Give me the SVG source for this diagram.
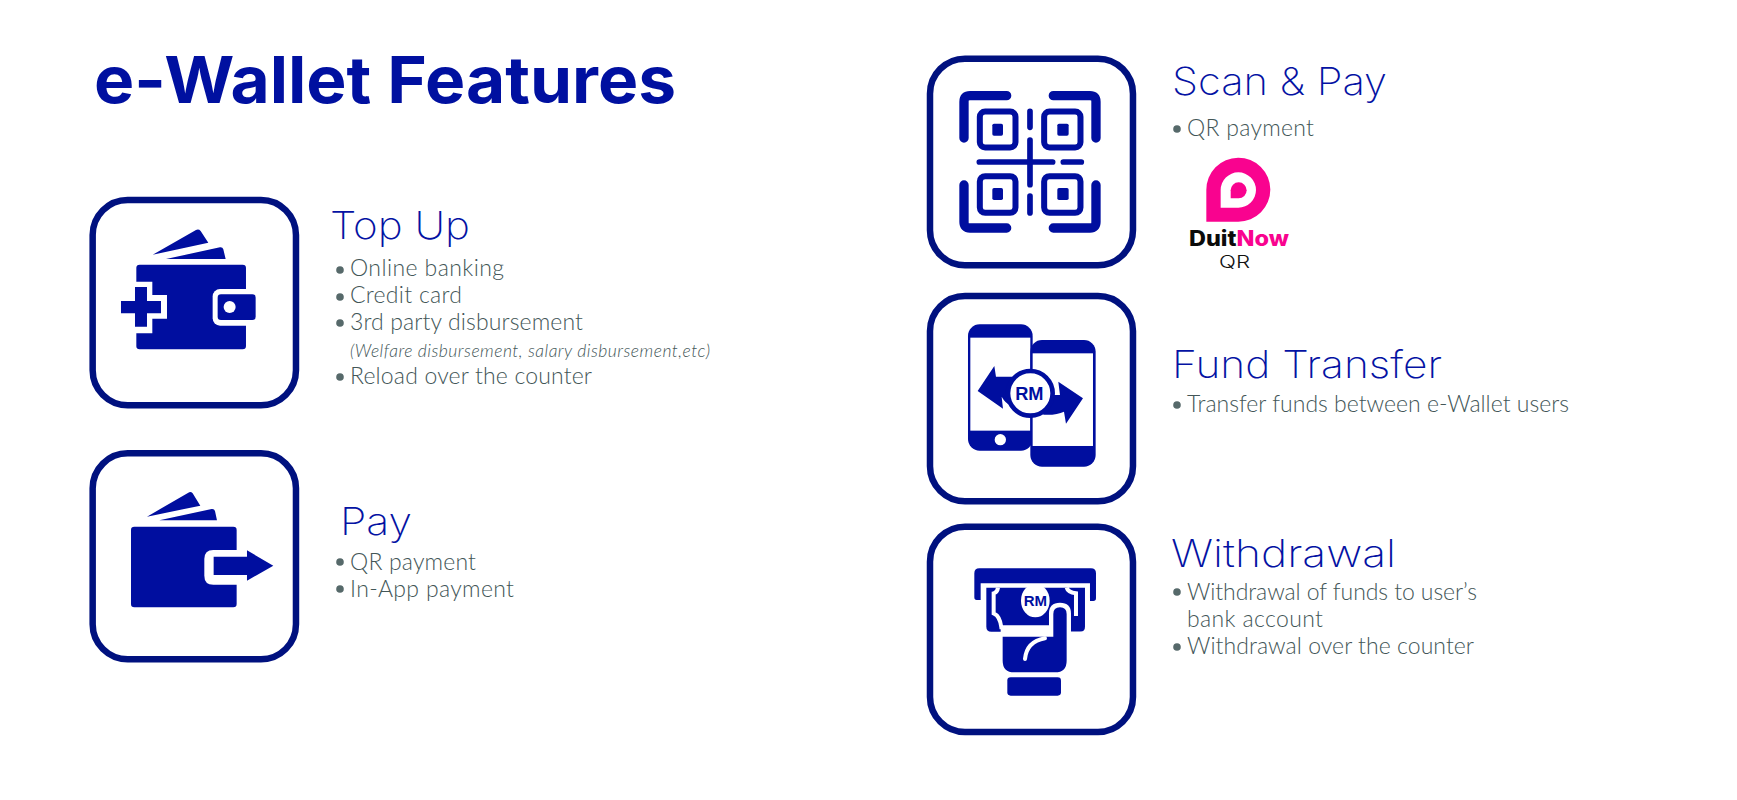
<svg xmlns="http://www.w3.org/2000/svg" width="1737" height="800" viewBox="0 0 1737 800">
<style>
text{font-family:"Lato","Noto Sans","Liberation Sans",sans-serif}
.t{font-family:"Inter","Liberation Sans",sans-serif;font-weight:700;font-size:65px;fill:#0010a0}
.h{font-family:"Inter","Lato",sans-serif;font-weight:200;font-size:38.500px;fill:#0412a3}
.b{font-weight:300;font-size:23px;fill:#435657}
.i{font-weight:300;font-style:italic;font-size:17.500px;fill:#435657}
.d{fill:#56696a}
.box{fill:#fff;stroke:#00117f;stroke-width:19.500}
.k{fill:#000e9f}
.w{fill:#fff}
.q{fill:none;stroke:#000e9f;stroke-width:28;stroke-linecap:round}
.r{fill:none;stroke:#000e9f;stroke-width:18}
.l{fill:none;stroke:#000e9f;stroke-width:17;stroke-linecap:round}
.rm{font-family:"Liberation Sans",sans-serif;font-weight:700;fill:#000e9f}
.dn{font-family:"Inter","Liberation Sans",sans-serif;font-weight:800;font-size:21px;fill:#0b0b0b}
.qr{font-family:"Inter","Liberation Sans",sans-serif;font-weight:300;font-size:17px;fill:#111}
</style>
<rect width="1737" height="800" fill="#fff"/>
<text class="t" x="94" y="102.500" textLength="582" lengthAdjust="spacingAndGlyphs">e-Wallet Features</text>

<g id="top-up">
<g transform="translate(60 180) scale(.3333)">
<rect class="box" x="98" y="60" width="610" height="616" rx="105"/>
<path class="k" d="M278 224 L408 150 Q416 146 422 153 L445 188Z M318 237 L480 202 Q488 201 490 208 L497 237Z"/>
<rect class="k" x="229" y="254" width="329" height="254" rx="10"/>
<rect class="w" x="458" y="327" width="130" height="110" rx="22"/>
<rect class="k" x="473" y="343" width="114" height="77" rx="10"/>
<circle class="w" cx="509" cy="381" r="18"/>
<path class="w" d="M215 305 H277 V345 H321 V416 H277 V460 H215Z"/>
<path class="k" d="M225 321 H261 V363 H303 V400 H261 V440 H225 V400 H183 V363 H225Z"/>
</g>
<text class="h" x="330" y="239" textLength="140" lengthAdjust="spacingAndGlyphs">Top Up</text>
<g class="d"><circle cx="340" cy="270" r="3.800"/><circle cx="340" cy="297" r="3.800"/><circle cx="340" cy="323" r="3.800"/><circle cx="340" cy="377" r="3.800"/></g>
<text class="b" x="350" y="276" textLength="154">Online banking</text>
<text class="b" x="350" y="303" textLength="112">Credit card</text>
<text class="b" x="350" y="330" textLength="233">3rd party disbursement</text>
<text class="i" x="350" y="357" textLength="360">(Welfare disbursement, salary disbursement,etc)</text>
<text class="b" x="350" y="384" textLength="242">Reload over the counter</text>
</g>

<g id="pay">
<g transform="translate(60 430) scale(.3333)">
<rect class="box" x="98" y="70" width="610" height="618" rx="105"/>
<path class="k" d="M261 260 L385 188 Q392 183 398 190 L421 227Z M298 271 L455 237 Q463 236 465 243 L471 271Z"/>
<rect class="k" x="213" y="290" width="317" height="242" rx="10"/>
<path class="w" d="M531 360 H460 Q433 360 433 387 V437 Q433 464 460 464 H531Z"/>
<path class="k" d="M461 380 H561 V361 L640 407 L561 452 V435 H461Z"/>
</g>
<text class="h" x="340" y="535" textLength="72" lengthAdjust="spacingAndGlyphs">Pay</text>
<g class="d"><circle cx="340" cy="562" r="3.800"/><circle cx="340" cy="589" r="3.800"/></g>
<text class="b" x="350" y="569.500" textLength="126">QR payment</text>
<text class="b" x="350" y="596.500" textLength="164">In-App payment</text>
</g>

<g id="scan-pay">
<g transform="translate(910 40) scale(.3333)">
<rect class="box" x="60" y="56" width="609" height="620" rx="105"/>
<path class="q" d="M162 294 V185 Q162 167 180 167 H290 M430 167 H540 Q558 167 558 185 V294 M162 435 V546 Q162 564 180 564 H290 M430 564 H540 Q558 564 558 546 V435"/>
<rect class="r" x="209.500" y="214.500" width="107" height="108" rx="16"/>
<rect class="r" x="402.500" y="214.500" width="109" height="108" rx="16"/>
<rect class="r" x="209.500" y="408.500" width="107" height="110" rx="16"/>
<rect class="r" x="402.500" y="408.500" width="109" height="110" rx="16"/>
<rect class="k" x="247" y="251" width="32" height="36" rx="5"/>
<rect class="k" x="442" y="251" width="34" height="36" rx="5"/>
<rect class="k" x="247" y="444" width="32" height="36" rx="5"/>
<rect class="k" x="442" y="444" width="34" height="36" rx="5"/>
<path class="l" d="M360 214 V262 M360 300 V434 M360 468 V519 M208 366 H428 M460 366 H514"/>
</g>
<text class="h" x="1172" y="95" textLength="215" lengthAdjust="spacingAndGlyphs">Scan &amp; Pay</text>
<circle class="d" cx="1177" cy="129" r="3.800"/>
<text class="b" x="1187" y="135.500" textLength="127">QR payment</text>
<g id="duitnow">
<g transform="translate(1160 130) scale(.3333)">
<path fill="#f9038f" fill-rule="evenodd" d="M139 275 V180 A96 96 0 1 1 235 275Z M182 233 H235 A53 53 0 1 0 182 180Z"/>
<path fill="#f9038f" d="M212 205 V181 A24 24 0 1 1 236 205Z"/>
</g>
<text class="dn" x="1189" y="246" textLength="100" lengthAdjust="spacingAndGlyphs">Duit<tspan fill="#f9038f">Now</tspan></text>
<text class="qr" x="1219" y="268" textLength="31" lengthAdjust="spacingAndGlyphs">QR</text>
</g>
</g>

<g id="fund-transfer">
<g transform="translate(910 280) scale(.3333)">
<rect class="box" x="60" y="48" width="609" height="616" rx="105"/>
<rect class="k" x="174" y="133" width="194" height="379" rx="35"/>
<rect class="w" x="181" y="173" width="180" height="279"/>
<circle class="w" cx="271" cy="479" r="17"/>
<rect class="k" x="361" y="180" width="196" height="380" rx="35"/>
<rect class="w" x="368" y="220" width="181" height="278"/>
<path class="k" d="M203 333 L253 258 L258 290 H320 V375 H300 Q285 368 275 350 L279 386Z"/>
<path class="k" d="M519 355 L445 305 L450 345 H400 V404 Q440 406 462 395 L468 431Z"/>
<path d="M430 306 Q441 325 441 345" fill="none" stroke="#fff" stroke-width="7"/>
<circle cx="361" cy="340" r="67" fill="#fff" stroke="#000e9f" stroke-width="14"/>
<text class="rm" x="358" y="361" font-size="55" text-anchor="middle" textLength="85" lengthAdjust="spacingAndGlyphs">RM</text>
</g>
<text class="h" x="1172" y="378" textLength="270" lengthAdjust="spacingAndGlyphs">Fund Transfer</text>
<circle class="d" cx="1177" cy="405" r="3.800"/>
<text class="b" x="1187" y="412" textLength="382">Transfer funds between e-Wallet users</text>
</g>

<g id="withdrawal">
<g transform="translate(910 510) scale(.3333)">
<rect class="box" x="60" y="50" width="609" height="616" rx="105"/>
<path class="k" d="M193 190 Q193 175 208 175 H543 Q558 175 558 190 V265 Q558 273 550 273 H540 V220 H212 V270 H200 Q193 270 193 262Z"/>
<path class="k" d="M229 233 H525 V350 Q525 365 510 365 H244 Q229 365 229 350Z"/>
<path d="M264 233 Q262 247 251 250 V310 Q270 318 274 352 H420 M470 233 Q474 247 498 250 V318" fill="none" stroke="#fff" stroke-width="12"/>
<ellipse class="w" cx="376" cy="272" rx="43" ry="50"/>
<text class="rm" x="376" y="288" font-size="44" text-anchor="middle" textLength="70" lengthAdjust="spacingAndGlyphs">RM</text>
<path class="w" d="M417 365 V310 Q417 278 450 278 Q483 278 483 310 V380 H417Z"/>
<rect class="w" x="272" y="352" width="150" height="28"/>
<rect class="w" x="470" y="365" width="60" height="20"/>
<path class="k" d="M430 380 V312 Q430 292 450 292 Q470 292 470 312 V452 Q470 487 435 487 H313 Q278 487 278 452 V380Z"/>
<path d="M345 447 Q350 395 405 385" fill="none" stroke="#fff" stroke-width="12" stroke-linecap="round"/>
<rect class="k" x="292" y="502" width="161" height="55" rx="10"/>
</g>
<text class="h" x="1171" y="567" textLength="225" lengthAdjust="spacingAndGlyphs">Withdrawal</text>
<g class="d"><circle cx="1177" cy="592" r="3.800"/><circle cx="1177" cy="647" r="3.800"/></g>
<text class="b" x="1187" y="599.500" textLength="290">Withdrawal of funds to user’s</text>
<text class="b" x="1187" y="627" textLength="136">bank account</text>
<text class="b" x="1187" y="654" textLength="287">Withdrawal over the counter</text>
</g>
</svg>
